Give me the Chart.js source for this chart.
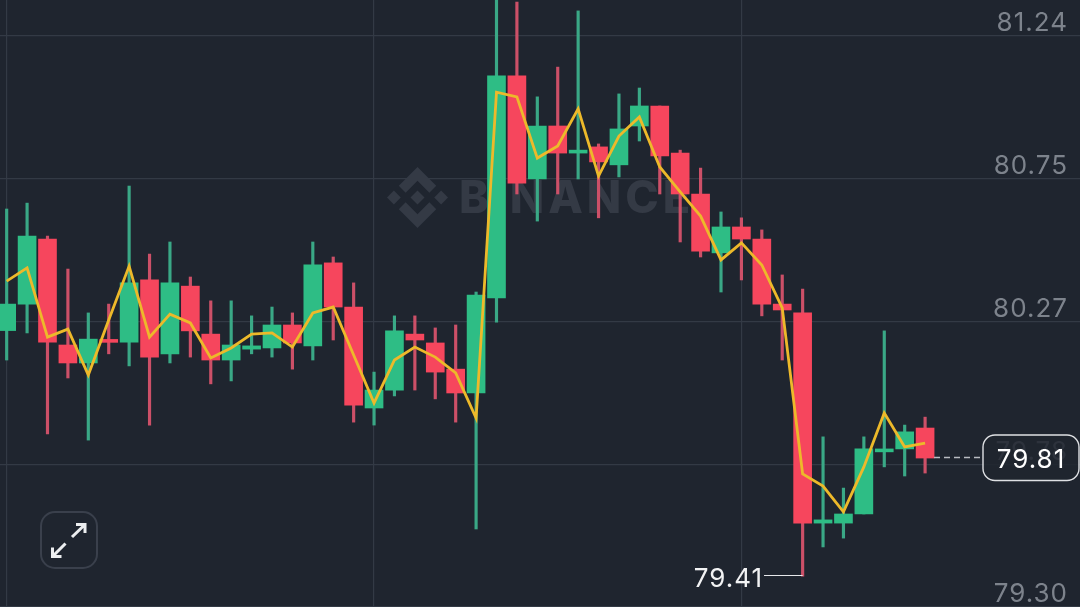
<!DOCTYPE html>
<html>
<head>
<meta charset="utf-8">
<style>
    html, body { margin: 0; padding: 0; background: #1f252f; }
    canvas { display: block; }
</style>
<script src="https://cdn.jsdelivr.net/npm/chart.js@4/dist/chart.umd.min.js"></script>
</head>
<body>
<canvas id="chart" width="1080" height="607"></canvas>
<script>
const opens = [80.239, 80.329, 80.550, 80.190, 80.129, 80.209, 80.200, 80.411, 80.160, 80.390, 80.227, 80.139, 80.176, 80.180, 80.258, 80.187, 80.469, 80.319, 79.976, 80.037, 80.227, 80.197, 80.108, 80.027, 80.350, 81.104, 80.754, 80.934, 80.842, 80.863, 80.802, 80.934, 81.002, 80.842, 80.703, 80.503, 80.591, 80.550, 80.329, 80.299, 79.585, 79.585, 79.616, 79.827, 79.837, 79.908];
const closes = [80.329, 80.560, 80.200, 80.129, 80.210, 80.199, 80.401, 80.149, 80.401, 80.238, 80.139, 80.190, 80.187, 80.258, 80.197, 80.462, 80.319, 79.986, 80.037, 80.238, 80.207, 80.098, 80.027, 80.360, 81.104, 80.740, 80.934, 80.842, 80.852, 80.812, 80.924, 81.002, 80.832, 80.703, 80.509, 80.591, 80.550, 80.329, 80.309, 79.585, 79.596, 79.616, 79.837, 79.837, 79.895, 79.806];
const highs = [80.652, 80.672, 80.560, 80.448, 80.299, 80.329, 80.730, 80.499, 80.540, 80.421, 80.340, 80.340, 80.289, 80.319, 80.299, 80.540, 80.489, 80.401, 80.098, 80.289, 80.289, 80.248, 80.258, 80.370, 81.380, 81.355, 81.033, 81.134, 81.325, 80.873, 81.043, 81.063, 81.002, 80.852, 80.791, 80.642, 80.622, 80.581, 80.428, 80.380, 79.878, 79.704, 79.878, 80.238, 79.918, 79.945];
const lows = [80.139, 80.231, 79.888, 80.078, 79.867, 80.160, 80.119, 79.918, 80.129, 80.149, 80.058, 80.068, 80.160, 80.149, 80.108, 80.139, 80.207, 79.928, 79.918, 80.017, 80.037, 80.007, 79.928, 79.565, 80.268, 80.703, 80.611, 80.703, 80.754, 80.622, 80.761, 80.883, 80.703, 80.540, 80.489, 80.370, 80.411, 80.289, 80.139, 79.405, 79.504, 79.534, 79.616, 79.776, 79.745, 79.755];
const average = [80.407, 80.452, 80.217, 80.244, 80.088, 80.275, 80.458, 80.217, 80.295, 80.265, 80.146, 80.180, 80.227, 80.231, 80.183, 80.299, 80.319, 80.156, 79.993, 80.139, 80.183, 80.149, 80.095, 79.942, 81.049, 81.033, 80.825, 80.866, 80.992, 80.764, 80.900, 80.965, 80.795, 80.710, 80.628, 80.479, 80.537, 80.462, 80.316, 79.752, 79.711, 79.623, 79.776, 79.959, 79.844, 79.857];
const tickValues = [79.30, 79.785, 80.27, 80.755, 81.24];
const tickLabels = ["79.30", "79.78", "80.27", "80.75", "81.24"];
const timeTicks = [0, 18, 36];
const lastPrice = 79.81;
const lowestPrice = 79.41;
const watermark = "BINANCE";

const GRID = "#333a45";
const UP = "#2ebd85";
const DOWN = "#f6465d";
const UP_WICK = "#3aa886";
const DOWN_WICK = "#cc5068";
const FONT = "Inter";

const isUp = (i) => closes[i] >= opens[i];
const bodies = opens.map((o, i) => ({ x: i, y: [o, closes[i]] }));
const wicks = lows.map((l, i) => ({ x: i, y: [l, highs[i]] }));
const line = average.map((v, i) => ({ x: i, y: v }));

// binance logo, in its own 126.6 unit box
const logoShapes = [
    [[38.73, 53.2], [63.31, 28.62], [87.9, 53.21], [102.2, 38.91], [63.31, 0], [24.43, 38.9]],
    [[38.73, 73.4], [63.31, 97.98], [87.9, 73.39], [102.2, 87.69], [63.31, 126.6], [24.43, 87.7]],
    [[0, 63.3], [14.3, 49], [28.6, 63.3], [14.3, 77.6]],
    [[98, 63.3], [112.3, 49], [126.6, 63.3], [112.3, 77.6]],
    [[63.3, 48.8], [77.8, 63.3], [63.3, 77.8], [48.8, 63.3]]
];

const watermarkPlugin = {
    id: "watermark",
    beforeDraw(chart) {
        // tick labels pick this up too
        chart.ctx.letterSpacing = "1px";
    },
    beforeDatasetsDraw(chart) {
        const ctx = chart.ctx;
        const size = 61;
        const left = 387;
        const top = 167;
        ctx.save();
        ctx.fillStyle = "#343a45";
        logoShapes.forEach((shape) => {
            ctx.beginPath();
            shape.forEach((p, i) => {
                const px = left + p[0] * size / 126.6;
                const py = top + p[1] * size / 126.6;
                if (i == 0) ctx.moveTo(px, py);
                else ctx.lineTo(px, py);
            });
            ctx.closePath();
            ctx.fill();
        });
        ctx.font = `800 45px ${FONT}`;
        ctx.letterSpacing = "4px";
        ctx.textAlign = "left";
        ctx.textBaseline = "alphabetic";
        ctx.fillText(watermark, 459, 213);
        ctx.restore();
    }
};

const overlayPlugin = {
    id: "overlay",
    afterDraw(chart) {
        const ctx = chart.ctx;
        const x = chart.scales.x;
        const y = chart.scales.y;
        ctx.save();

        // lowest price marker
        const lowY = Math.round(y.getPixelForValue(lowestPrice)) + 0.5;
        const lowX = x.getPixelForValue(lows.indexOf(Math.min(...lows)));
        ctx.strokeStyle = "#e6e8ea";
        ctx.lineWidth = 1.2;
        ctx.beginPath();
        ctx.moveTo(764, lowY);
        ctx.lineTo(lowX, lowY);
        ctx.stroke();
        ctx.fillStyle = "#f2f3f4";
        ctx.font = `400 26px ${FONT}`;
        ctx.textAlign = "right";
        ctx.textBaseline = "middle";
        ctx.fillText(lowestPrice.toFixed(2), 763, lowY + 4);

        // last price dashes and box
        const lastY = Math.round(y.getPixelForValue(lastPrice)) + 0.5;
        ctx.strokeStyle = "#b9bcc2";
        ctx.lineWidth = 1.5;
        ctx.setLineDash([6, 4]);
        ctx.beginPath();
        ctx.moveTo(934, lastY);
        ctx.lineTo(981, lastY);
        ctx.stroke();
        ctx.setLineDash([]);
        ctx.beginPath();
        ctx.roundRect(983, 435, 96, 45.5, 12);
        ctx.fillStyle = "rgba(31, 37, 47, 0.86)";
        ctx.fill();
        ctx.strokeStyle = "#dfe1e4";
        ctx.lineWidth = 1.4;
        ctx.stroke();
        ctx.fillStyle = "#ffffff";
        ctx.textAlign = "center";
        ctx.fillText(lastPrice.toFixed(2), 1031, 460.5);

        // expand button
        ctx.beginPath();
        ctx.roundRect(41, 512, 56, 56, 14);
        ctx.strokeStyle = "#3a404c";
        ctx.lineWidth = 2;
        ctx.stroke();
        ctx.strokeStyle = "#eceef0";
        ctx.lineWidth = 3;
        ctx.beginPath();
        ctx.moveTo(72, 537); ctx.lineTo(85, 524.5);
        ctx.moveTo(76, 524.5); ctx.lineTo(85, 524.5); ctx.lineTo(85, 533);
        ctx.moveTo(65.5, 543.5); ctx.lineTo(52.5, 556.5);
        ctx.moveTo(52.5, 547.5); ctx.lineTo(52.5, 556.5); ctx.lineTo(61.5, 556.5);
        ctx.stroke();

        ctx.restore();
    }
};

new Chart(document.querySelector("#chart"), {
    type: "bar",
    data: {
        datasets: [
            {
                type: "line",
                data: line,
                order: 0,
                borderColor: "#edb92a",
                borderWidth: 2.8,
                pointRadius: 0,
                tension: 0
            },
            {
                data: bodies,
                order: 1,
                barThickness: 18,
                backgroundColor: (c) => isUp(c.dataIndex) ? UP : DOWN
            },
            {
                data: wicks,
                order: 2,
                barThickness: 2.5,
                backgroundColor: (c) => isUp(c.dataIndex) ? UP_WICK : DOWN_WICK
            }
        ]
    },
    options: {
        responsive: false,
        animation: false,
        layout: { padding: 0 },
        grouped: false,
        plugins: { legend: { display: false }, tooltip: { enabled: false } },
        scales: {
            x: {
                type: "linear",
                offset: false,
                min: -0.327,
                max: 52.59,
                afterBuildTicks: (s) => { s.ticks = timeTicks.map((value) => ({ value })); },
                afterFit: (s) => { s.height = 0; s.paddingLeft = 0; s.paddingRight = 0; },
                ticks: { display: false },
                border: { display: false },
                grid: { offset: false, color: GRID, lineWidth: 1.2, drawTicks: false }
            },
            y: {
                type: "linear",
                position: "right",
                min: 79.30,
                max: 81.362,
                afterBuildTicks: (s) => { s.ticks = tickValues.map((value) => ({ value })); },
                afterFit: (s) => { s.width = 0; s.paddingTop = 0; s.paddingBottom = 0; },
                ticks: {
                    mirror: true,
                    autoSkip: false,
                    padding: -12,
                    labelOffset: -12.5,
                    color: "#7d838c",
                    font: { family: FONT, size: 26 },
                    callback: (v, i) => tickLabels[i]
                },
                border: { display: false },
                grid: { color: GRID, lineWidth: 1.2, drawTicks: false }
            }
        }
    },
    plugins: [watermarkPlugin, overlayPlugin]
});
</script>
</body>
</html>
